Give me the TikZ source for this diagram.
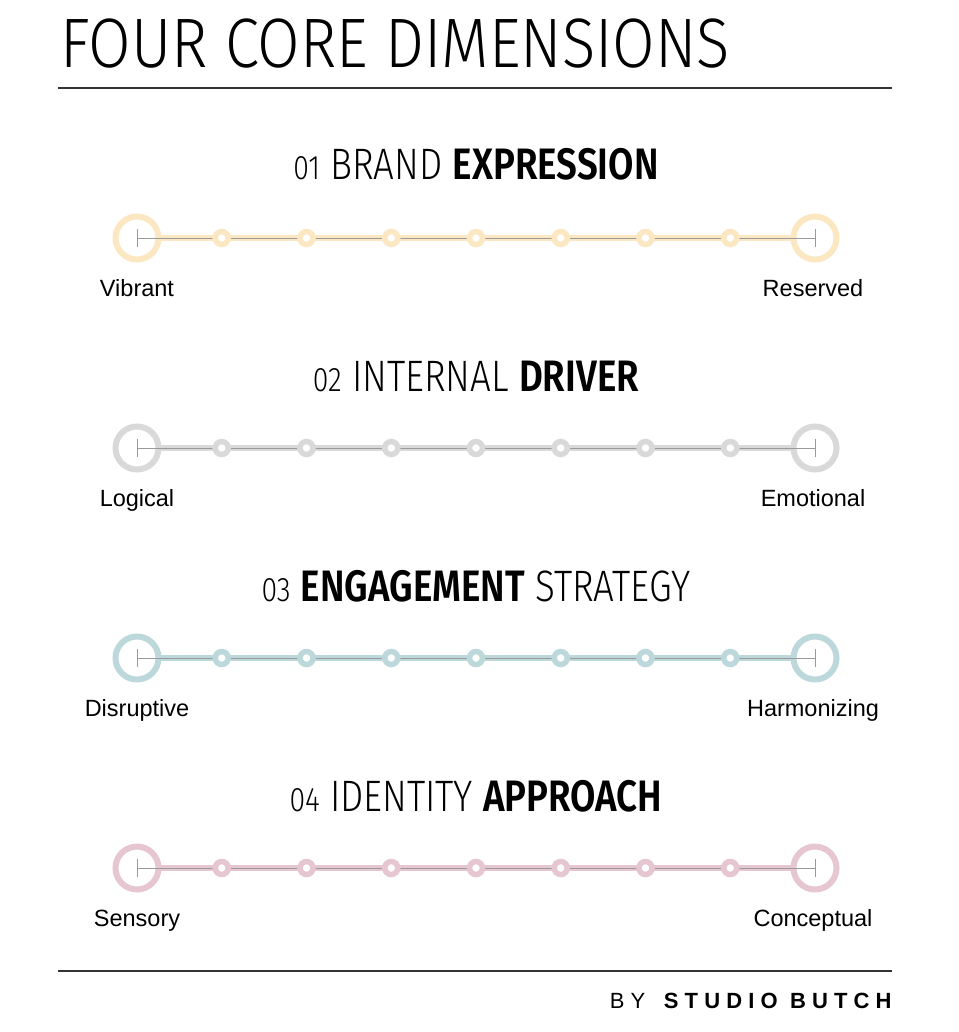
\documentclass[tikz,border=0pt]{standalone}
\usepackage{fontspec}
\setmainfont{Liberation Sans}
\newfontfamily\condfont{Fira Sans}[UprightFont=* Light, BoldFont=* SemiBold, FakeStretch=0.835]
\newfontfamily\titlefont{Fira Sans}[UprightFont=* Light, FakeStretch=0.88]
\newfontfamily\spacedfont{Liberation Sans}[LetterSpace=28]
\definecolor{cyellow}{HTML}{FBE8C3}
\definecolor{cgray}{HTML}{D9D9D9}
\definecolor{cteal}{HTML}{BDD8DB}
\definecolor{cpink}{HTML}{E6C6D1}
\definecolor{thinc}{HTML}{9A9A9A}
\definecolor{rulec}{HTML}{333333}
\tikzset{
  bigdot/.style={circle, draw=#1, line width=6pt, fill=white, minimum size=43pt, inner sep=0pt},
  smalldot/.style={circle, draw=#1, line width=5.5pt, fill=white, minimum size=13pt, inner sep=0pt},
  endlabel/.style={font=\fontsize{23.5}{26}\selectfont, anchor=base},
  heading/.style={font=\condfont\fontsize{44}{48}\selectfont, anchor=base},
}
\newcommand{\nm}[1]{{\fontsize{34}{36}\selectfont #1}}
\newcommand{\scalerow}[5]{%
  \foreach \i in {0,...,8} { \coordinate (#1c\i) at ({137+84.75*\i},#2); }
  \draw[#3, line width=6pt] (#1c0) -- (#1c8);
  \node[bigdot=#3] (#1p0) at (#1c0) {};
  \node[bigdot=#3] (#1p8) at (#1c8) {};
  \draw[thinc, line width=1pt] (#1p0.center) -- (#1p8.center);
  \foreach \i in {1,...,7} { \node[smalldot=#3] (#1p\i) at (#1c\i) {}; }
  \draw[thinc, line width=1pt] ([yshift=-9pt]#1p0.center) -- ([yshift=9pt]#1p0.center);
  \draw[thinc, line width=1pt] ([yshift=-9pt]#1p8.center) -- ([yshift=9pt]#1p8.center);
  \node[endlabel] (#1l) at ([yshift=-58pt]#1p0.center) {#4};
  \node[endlabel] (#1r) at ([yshift=-58pt,xshift=-2pt]#1p8.center) {#5};
}
\begin{document}
\begin{tikzpicture}[x=1pt,y=-1pt]
\useasboundingbox (0,0) rectangle (958,1032);
\node[anchor=base west, inner sep=0pt, font=\titlefont\fontsize{70}{74}\selectfont] (title) at (60,68) {FOUR CORE DIMENSIONS};
\coordinate (r1a) at (58,88); \coordinate (r1b) at (892,88);
\draw[rulec, line width=2pt] (r1a) -- (r1b);

\node[heading] (h1) at (476,180) {\nm{01} BRAND \textbf{EXPRESSION}};
\scalerow{a}{238}{cyellow}{Vibrant}{Reserved}

\node[heading] (h2) at (476,391) {\nm{02} INTERNAL \textbf{DRIVER}};
\scalerow{b}{448}{cgray}{Logical}{Emotional}

\node[heading] (h3) at (476,601) {\nm{03} \textbf{ENGAGEMENT} STRATEGY};
\scalerow{c}{658}{cteal}{Disruptive}{Harmonizing}

\node[heading] (h4) at (476,811) {\nm{04} IDENTITY \textbf{APPROACH}};
\scalerow{d}{868}{cpink}{Sensory}{Conceptual}

\coordinate (r2a) at (58,971); \coordinate (r2b) at (892,971);
\draw[rulec, line width=2pt] (r2a) -- (r2b);
\node[anchor=base east, inner sep=0pt, font=\spacedfont\fontsize{22}{24}\selectfont] (by) at (898,1008) {BY \textbf{STUDIO BUTCH}};
\end{tikzpicture}
\end{document}
